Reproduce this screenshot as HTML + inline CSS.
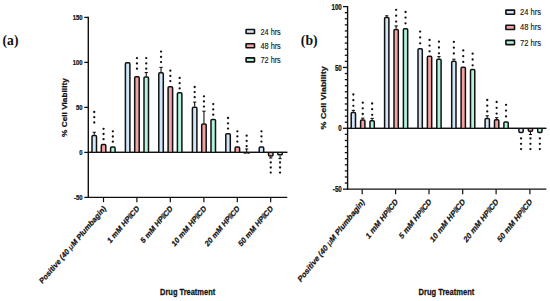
<!DOCTYPE html>
<html><head><meta charset="utf-8"><style>
html,body{margin:0;padding:0;background:#fff;}
body{width:550px;height:301px;overflow:hidden;}
svg{display:block;}
</style></head><body>
<svg width="550" height="301" viewBox="0 0 550 301">
<rect width="550" height="301" fill="#fff"/>
<line x1="88.3" y1="16.80" x2="88.3" y2="198.0" stroke="#111" stroke-width="1.4"/>
<line x1="84.3" y1="17.40" x2="88.3" y2="17.40" stroke="#111" stroke-width="1.3"/>
<text transform="translate(82.6,20.20) scale(0.77,1)" font-family="Liberation Sans" font-size="7.7" font-weight="bold" text-anchor="end" fill="#111" stroke="#111" stroke-width="0.25" >150</text>
<line x1="84.3" y1="62.40" x2="88.3" y2="62.40" stroke="#111" stroke-width="1.3"/>
<text transform="translate(82.6,65.2) scale(0.77,1)" font-family="Liberation Sans" font-size="7.7" font-weight="bold" text-anchor="end" fill="#111" stroke="#111" stroke-width="0.25" >100</text>
<line x1="84.3" y1="107.4" x2="88.3" y2="107.4" stroke="#111" stroke-width="1.3"/>
<text transform="translate(82.6,110.2) scale(0.77,1)" font-family="Liberation Sans" font-size="7.7" font-weight="bold" text-anchor="end" fill="#111" stroke="#111" stroke-width="0.25" >50</text>
<line x1="84.3" y1="152.4" x2="88.3" y2="152.4" stroke="#111" stroke-width="1.3"/>
<text transform="translate(82.6,155.20) scale(0.77,1)" font-family="Liberation Sans" font-size="7.7" font-weight="bold" text-anchor="end" fill="#111" stroke="#111" stroke-width="0.25" >0</text>
<line x1="84.3" y1="197.4" x2="88.3" y2="197.4" stroke="#111" stroke-width="1.3"/>
<text transform="translate(82.6,200.20) scale(0.77,1)" font-family="Liberation Sans" font-size="7.7" font-weight="bold" text-anchor="end" fill="#111" stroke="#111" stroke-width="0.25" >-50</text>
<line x1="88.3" y1="152.4" x2="287.3" y2="152.4" stroke="#111" stroke-width="1.3"/>
<line x1="88.3" y1="197.4" x2="287.3" y2="197.4" stroke="#111" stroke-width="1.4"/>
<line x1="103.5" y1="197.4" x2="103.5" y2="202.2" stroke="#111" stroke-width="1.2"/>
<line x1="136.9" y1="197.4" x2="136.9" y2="202.2" stroke="#111" stroke-width="1.2"/>
<line x1="170.3" y1="197.4" x2="170.3" y2="202.2" stroke="#111" stroke-width="1.2"/>
<line x1="203.9" y1="197.4" x2="203.9" y2="202.2" stroke="#111" stroke-width="1.2"/>
<line x1="237.3" y1="197.4" x2="237.3" y2="202.2" stroke="#111" stroke-width="1.2"/>
<line x1="270.7" y1="197.4" x2="270.7" y2="202.2" stroke="#111" stroke-width="1.2"/>
<line x1="94.25" y1="134.79" x2="94.25" y2="132.3" stroke="#111" stroke-width="1.1"/>
<line x1="92.65" y1="132.3" x2="95.85" y2="132.3" stroke="#111" stroke-width="1.1"/>
<path d="M92.0,152.4 L92.0,136.64 Q92.0,135.54 93.1,135.54 L95.4,135.54 Q96.5,135.54 96.5,136.64 L96.5,152.4" fill="#d2e5f9" stroke="#111" stroke-width="1.5"/>
<circle cx="94.25" cy="112" r="1.15" fill="#111"/>
<circle cx="94.25" cy="117.2" r="1.15" fill="#111"/>
<circle cx="94.25" cy="122.5" r="1.15" fill="#111"/>
<path d="M101.3,152.4 L101.3,145.64 Q101.3,144.54 102.39,144.54 L104.7,144.54 Q105.8,144.54 105.8,145.64 L105.8,152.4" fill="#f4a3a3" stroke="#111" stroke-width="1.5"/>
<circle cx="103.55" cy="128.8" r="1.15" fill="#111"/>
<circle cx="103.55" cy="134" r="1.15" fill="#111"/>
<circle cx="103.55" cy="139.2" r="1.15" fill="#111"/>
<path d="M110.6,152.4 L110.6,148.14 Q110.6,147.04 111.69,147.04 L114.0,147.04 Q115.1,147.04 115.1,148.14 L115.1,152.4" fill="#b0f4da" stroke="#111" stroke-width="1.5"/>
<circle cx="112.85" cy="131.3" r="1.15" fill="#111"/>
<circle cx="112.85" cy="136.5" r="1.15" fill="#111"/>
<circle cx="112.85" cy="141.7" r="1.15" fill="#111"/>
<path d="M125.4,152.4 L125.4,63.95 Q125.4,62.85 126.5,62.85 L128.8,62.85 Q129.9,62.85 129.9,63.95 L129.9,152.4" fill="#d2e5f9" stroke="#111" stroke-width="1.5"/>
<path d="M134.70,152.4 L134.70,77.85 Q134.70,76.75 135.8,76.75 L138.10,76.75 Q139.20,76.75 139.20,77.85 L139.20,152.4" fill="#f4a3a3" stroke="#111" stroke-width="1.5"/>
<circle cx="136.95" cy="58.1" r="1.15" fill="#111"/>
<circle cx="136.95" cy="63.4" r="1.15" fill="#111"/>
<circle cx="136.95" cy="68.7" r="1.15" fill="#111"/>
<line x1="146.25" y1="76.2" x2="146.25" y2="72.5" stroke="#111" stroke-width="1.1"/>
<line x1="144.65" y1="72.5" x2="147.85" y2="72.5" stroke="#111" stroke-width="1.1"/>
<path d="M144.00,152.4 L144.00,78.05 Q144.00,76.95 145.10,76.95 L147.40,76.95 Q148.50,76.95 148.50,78.05 L148.50,152.4" fill="#b0f4da" stroke="#111" stroke-width="1.5"/>
<circle cx="146.25" cy="58.1" r="1.15" fill="#111"/>
<circle cx="146.25" cy="63.4" r="1.15" fill="#111"/>
<circle cx="146.25" cy="68.7" r="1.15" fill="#111"/>
<line x1="161.05" y1="72.10" x2="161.05" y2="67.4" stroke="#111" stroke-width="1.1"/>
<line x1="159.45" y1="67.4" x2="162.65" y2="67.4" stroke="#111" stroke-width="1.1"/>
<path d="M158.8,152.4 L158.8,73.95 Q158.8,72.85 159.9,72.85 L162.20,72.85 Q163.3,72.85 163.3,73.95 L163.3,152.4" fill="#d2e5f9" stroke="#111" stroke-width="1.5"/>
<circle cx="161.05" cy="51.6" r="1.15" fill="#111"/>
<circle cx="161.05" cy="56.9" r="1.15" fill="#111"/>
<circle cx="161.05" cy="62.1" r="1.15" fill="#111"/>
<path d="M168.10,152.4 L168.10,87.75 Q168.10,86.65 169.20,86.65 L171.50,86.65 Q172.60,86.65 172.60,87.75 L172.60,152.4" fill="#f4a3a3" stroke="#111" stroke-width="1.5"/>
<circle cx="170.35" cy="70.7" r="1.15" fill="#111"/>
<circle cx="170.35" cy="75.9" r="1.15" fill="#111"/>
<circle cx="170.35" cy="81.1" r="1.15" fill="#111"/>
<path d="M177.40,152.4 L177.40,93.95 Q177.40,92.85 178.50,92.85 L180.80,92.85 Q181.90,92.85 181.90,93.95 L181.90,152.4" fill="#b0f4da" stroke="#111" stroke-width="1.5"/>
<circle cx="179.65" cy="77.9" r="1.15" fill="#111"/>
<circle cx="179.65" cy="83.2" r="1.15" fill="#111"/>
<circle cx="179.65" cy="88.4" r="1.15" fill="#111"/>
<line x1="194.65" y1="106.60" x2="194.65" y2="102.1" stroke="#111" stroke-width="1.1"/>
<line x1="193.05" y1="102.1" x2="196.25" y2="102.1" stroke="#111" stroke-width="1.1"/>
<path d="M192.4,152.4 L192.4,108.45 Q192.4,107.35 193.5,107.35 L195.8,107.35 Q196.9,107.35 196.9,108.45 L196.9,152.4" fill="#d2e5f9" stroke="#111" stroke-width="1.5"/>
<circle cx="194.65" cy="87" r="1.15" fill="#111"/>
<circle cx="194.65" cy="92.1" r="1.15" fill="#111"/>
<circle cx="194.65" cy="97.2" r="1.15" fill="#111"/>
<line x1="203.95" y1="123.2" x2="203.95" y2="111.2" stroke="#111" stroke-width="1.1"/>
<line x1="202.35" y1="111.2" x2="205.55" y2="111.2" stroke="#111" stroke-width="1.1"/>
<path d="M201.70,152.4 L201.70,125.05 Q201.70,123.95 202.8,123.95 L205.10,123.95 Q206.20,123.95 206.20,125.05 L206.20,152.4" fill="#f4a3a3" stroke="#111" stroke-width="1.5"/>
<circle cx="203.95" cy="96.3" r="1.15" fill="#111"/>
<circle cx="203.95" cy="101.4" r="1.15" fill="#111"/>
<circle cx="203.95" cy="106.6" r="1.15" fill="#111"/>
<path d="M211.00,152.4 L211.00,120.55 Q211.00,119.45 212.10,119.45 L214.40,119.45 Q215.50,119.45 215.50,120.55 L215.50,152.4" fill="#b0f4da" stroke="#111" stroke-width="1.5"/>
<circle cx="213.25" cy="104.1" r="1.15" fill="#111"/>
<circle cx="213.25" cy="109.4" r="1.15" fill="#111"/>
<circle cx="213.25" cy="114.7" r="1.15" fill="#111"/>
<path d="M225.8,152.4 L225.8,134.85 Q225.8,133.75 226.9,133.75 L229.20,133.75 Q230.3,133.75 230.3,134.85 L230.3,152.4" fill="#d2e5f9" stroke="#111" stroke-width="1.5"/>
<circle cx="228.05" cy="118" r="1.15" fill="#111"/>
<circle cx="228.05" cy="123.3" r="1.15" fill="#111"/>
<circle cx="228.05" cy="128.6" r="1.15" fill="#111"/>
<path d="M235.10,152.4 L235.10,148.14 Q235.10,147.04 236.20,147.04 L238.50,147.04 Q239.60,147.04 239.60,148.14 L239.60,152.4" fill="#f4a3a3" stroke="#111" stroke-width="1.5"/>
<circle cx="237.35" cy="131.3" r="1.15" fill="#111"/>
<circle cx="237.35" cy="136.4" r="1.15" fill="#111"/>
<circle cx="237.35" cy="141.6" r="1.15" fill="#111"/>
<line x1="246.65" y1="151.89" x2="246.65" y2="149.0" stroke="#111" stroke-width="1.1"/>
<line x1="245.05" y1="149.0" x2="248.25" y2="149.0" stroke="#111" stroke-width="1.1"/>
<path d="M244.40,152.4 L244.40,153.74 Q244.40,152.64 245.50,152.64 L247.80,152.64 Q248.90,152.64 248.90,153.74 L248.90,152.4" fill="#b0f4da" stroke="#111" stroke-width="1.5"/>
<circle cx="246.65" cy="135.7" r="1.15" fill="#111"/>
<circle cx="246.65" cy="140.9" r="1.15" fill="#111"/>
<circle cx="246.65" cy="146.1" r="1.15" fill="#111"/>
<path d="M259.2,152.4 L259.2,148.14 Q259.2,147.04 260.3,147.04 L262.59,147.04 Q263.7,147.04 263.7,148.14 L263.7,152.4" fill="#d2e5f9" stroke="#111" stroke-width="1.5"/>
<circle cx="261.45" cy="131.3" r="1.15" fill="#111"/>
<circle cx="261.45" cy="136.4" r="1.15" fill="#111"/>
<circle cx="261.45" cy="141.6" r="1.15" fill="#111"/>
<line x1="270.75" y1="156.7" x2="270.75" y2="158.0" stroke="#111" stroke-width="1.1"/>
<line x1="269.15" y1="158.0" x2="272.35" y2="158.0" stroke="#111" stroke-width="1.1"/>
<path d="M268.5,152.4 L268.5,154.85 Q268.5,155.95 269.6,155.95 L271.9,155.95 Q273.0,155.95 273.0,154.85 L273.0,152.4" fill="#f4a3a3" stroke="#111" stroke-width="1.5"/>
<circle cx="270.75" cy="162.4" r="1.15" fill="#111"/>
<circle cx="270.75" cy="167.5" r="1.15" fill="#111"/>
<circle cx="270.75" cy="172.6" r="1.15" fill="#111"/>
<line x1="280.05" y1="155.5" x2="280.05" y2="158.6" stroke="#111" stroke-width="1.1"/>
<line x1="278.45" y1="158.6" x2="281.65" y2="158.6" stroke="#111" stroke-width="1.1"/>
<path d="M277.8,152.4 L277.8,153.65 Q277.8,154.75 278.90,154.75 L281.2,154.75 Q282.3,154.75 282.3,153.65 L282.3,152.4" fill="#b0f4da" stroke="#111" stroke-width="1.5"/>
<circle cx="280.05" cy="162.4" r="1.15" fill="#111"/>
<circle cx="280.05" cy="167.5" r="1.15" fill="#111"/>
<circle cx="280.05" cy="172.6" r="1.15" fill="#111"/>
<line x1="88.3" y1="152.4" x2="287.3" y2="152.4" stroke="#111" stroke-width="1.3"/>
<rect x="246.1" y="29.5" width="8.4" height="4.0" rx="0.3" fill="#d2e5f9" stroke="#111" stroke-width="1.6"/>
<text transform="translate(260.5,34.5) scale(0.84,1)" font-family="Liberation Sans" font-size="8.7" font-weight="normal" text-anchor="start" fill="#111" stroke="#111" stroke-width="0.12">24 hrs</text>
<rect x="246.1" y="43.7" width="8.4" height="4.0" rx="0.3" fill="#f4a3a3" stroke="#111" stroke-width="1.6"/>
<text transform="translate(260.5,48.7) scale(0.84,1)" font-family="Liberation Sans" font-size="8.7" font-weight="normal" text-anchor="start" fill="#111" stroke="#111" stroke-width="0.12">48 hrs</text>
<rect x="246.1" y="57.9" width="8.4" height="4.0" rx="0.3" fill="#b0f4da" stroke="#111" stroke-width="1.6"/>
<text transform="translate(260.5,62.9) scale(0.84,1)" font-family="Liberation Sans" font-size="8.7" font-weight="normal" text-anchor="start" fill="#111" stroke="#111" stroke-width="0.12">72 hrs</text>
<text transform="translate(66.9,107.6) scale(0.84,1) rotate(-90)" font-family="Liberation Sans" font-size="8.3" font-weight="bold" text-anchor="middle" fill="#111" stroke="#111" stroke-width="0.25" >% Cell Viability</text>
<text transform="translate(187.6,294.8) scale(0.84,1)" font-family="Liberation Sans" font-size="8.9" font-weight="bold" text-anchor="middle" fill="#111" stroke="#111" stroke-width="0.25" >Drug Treatment</text>
<text transform="translate(106.3,209.0) scale(0.85,1) rotate(-45)" font-family="Liberation Sans" font-size="8.23" font-weight="bold" text-anchor="end" fill="#111" stroke="#111" stroke-width="0.25" >Positive (40 <tspan font-weight="normal">&#956;</tspan>M Plumbagin)</text>
<text transform="translate(139.70,209.0) scale(0.85,1) rotate(-45)" font-family="Liberation Sans" font-size="8.23" font-weight="bold" text-anchor="end" fill="#111" stroke="#111" stroke-width="0.25" >1 mM HP<tspan font-weight="bold" fill="#666" dx="-0.6">&#8214;</tspan><tspan dx="-0.9">CD</tspan></text>
<text transform="translate(173.10,209.0) scale(0.85,1) rotate(-45)" font-family="Liberation Sans" font-size="8.23" font-weight="bold" text-anchor="end" fill="#111" stroke="#111" stroke-width="0.25" >5 mM HP<tspan font-weight="bold" fill="#666" dx="-0.6">&#8214;</tspan><tspan dx="-0.9">CD</tspan></text>
<text transform="translate(206.70,209.0) scale(0.85,1) rotate(-45)" font-family="Liberation Sans" font-size="8.23" font-weight="bold" text-anchor="end" fill="#111" stroke="#111" stroke-width="0.25" >10 mM HP<tspan font-weight="bold" fill="#666" dx="-0.6">&#8214;</tspan><tspan dx="-0.9">CD</tspan></text>
<text transform="translate(240.10,209.0) scale(0.85,1) rotate(-45)" font-family="Liberation Sans" font-size="8.23" font-weight="bold" text-anchor="end" fill="#111" stroke="#111" stroke-width="0.25" >20 mM HP<tspan font-weight="bold" fill="#666" dx="-0.6">&#8214;</tspan><tspan dx="-0.9">CD</tspan></text>
<text transform="translate(273.5,209.0) scale(0.85,1) rotate(-45)" font-family="Liberation Sans" font-size="8.23" font-weight="bold" text-anchor="end" fill="#111" stroke="#111" stroke-width="0.25" >50 mM HP<tspan font-weight="bold" fill="#666" dx="-0.6">&#8214;</tspan><tspan dx="-0.9">CD</tspan></text>
<text transform="translate(2.6,44.6) scale(0.97,1)" font-family="Liberation Serif" font-size="14" font-weight="bold" text-anchor="start" fill="#111" >(a)</text>
<line x1="347.6" y1="6.00" x2="347.6" y2="189.75" stroke="#111" stroke-width="1.4"/>
<line x1="343.0" y1="189.15" x2="347.6" y2="189.15" stroke="#111" stroke-width="1.3"/>
<text transform="translate(341.8,192.25) scale(0.72,1)" font-family="Liberation Sans" font-size="8.6" font-weight="bold" text-anchor="end" fill="#111" stroke="#111" stroke-width="0.25" >-50</text>
<line x1="344.8" y1="183.06" x2="347.6" y2="183.06" stroke="#111" stroke-width="1.3"/>
<line x1="344.8" y1="176.98" x2="347.6" y2="176.98" stroke="#111" stroke-width="1.3"/>
<line x1="344.8" y1="170.89" x2="347.6" y2="170.89" stroke="#111" stroke-width="1.3"/>
<line x1="344.8" y1="164.81" x2="347.6" y2="164.81" stroke="#111" stroke-width="1.3"/>
<line x1="344.8" y1="158.72" x2="347.6" y2="158.72" stroke="#111" stroke-width="1.3"/>
<line x1="344.8" y1="152.64" x2="347.6" y2="152.64" stroke="#111" stroke-width="1.3"/>
<line x1="344.8" y1="146.55" x2="347.6" y2="146.55" stroke="#111" stroke-width="1.3"/>
<line x1="344.8" y1="140.47" x2="347.6" y2="140.47" stroke="#111" stroke-width="1.3"/>
<line x1="344.8" y1="134.38" x2="347.6" y2="134.38" stroke="#111" stroke-width="1.3"/>
<line x1="343.0" y1="128.3" x2="347.6" y2="128.3" stroke="#111" stroke-width="1.3"/>
<text transform="translate(341.8,131.4) scale(0.72,1)" font-family="Liberation Sans" font-size="8.6" font-weight="bold" text-anchor="end" fill="#111" stroke="#111" stroke-width="0.25" >0</text>
<line x1="344.8" y1="122.21" x2="347.6" y2="122.21" stroke="#111" stroke-width="1.3"/>
<line x1="344.8" y1="116.13" x2="347.6" y2="116.13" stroke="#111" stroke-width="1.3"/>
<line x1="344.8" y1="110.04" x2="347.6" y2="110.04" stroke="#111" stroke-width="1.3"/>
<line x1="344.8" y1="103.96" x2="347.6" y2="103.96" stroke="#111" stroke-width="1.3"/>
<line x1="344.8" y1="97.87" x2="347.6" y2="97.87" stroke="#111" stroke-width="1.3"/>
<line x1="344.8" y1="91.79" x2="347.6" y2="91.79" stroke="#111" stroke-width="1.3"/>
<line x1="344.8" y1="85.70" x2="347.6" y2="85.70" stroke="#111" stroke-width="1.3"/>
<line x1="344.8" y1="79.62" x2="347.6" y2="79.62" stroke="#111" stroke-width="1.3"/>
<line x1="344.8" y1="73.53" x2="347.6" y2="73.53" stroke="#111" stroke-width="1.3"/>
<line x1="343.0" y1="67.45" x2="347.6" y2="67.45" stroke="#111" stroke-width="1.3"/>
<text transform="translate(341.8,70.55) scale(0.72,1)" font-family="Liberation Sans" font-size="8.6" font-weight="bold" text-anchor="end" fill="#111" stroke="#111" stroke-width="0.25" >50</text>
<line x1="344.8" y1="61.36" x2="347.6" y2="61.36" stroke="#111" stroke-width="1.3"/>
<line x1="344.8" y1="55.28" x2="347.6" y2="55.28" stroke="#111" stroke-width="1.3"/>
<line x1="344.8" y1="49.19" x2="347.6" y2="49.19" stroke="#111" stroke-width="1.3"/>
<line x1="344.8" y1="43.11" x2="347.6" y2="43.11" stroke="#111" stroke-width="1.3"/>
<line x1="344.8" y1="37.02" x2="347.6" y2="37.02" stroke="#111" stroke-width="1.3"/>
<line x1="344.8" y1="30.93" x2="347.6" y2="30.93" stroke="#111" stroke-width="1.3"/>
<line x1="344.8" y1="24.85" x2="347.6" y2="24.85" stroke="#111" stroke-width="1.3"/>
<line x1="344.8" y1="18.77" x2="347.6" y2="18.77" stroke="#111" stroke-width="1.3"/>
<line x1="344.8" y1="12.68" x2="347.6" y2="12.68" stroke="#111" stroke-width="1.3"/>
<line x1="343.0" y1="6.60" x2="347.6" y2="6.60" stroke="#111" stroke-width="1.3"/>
<text transform="translate(341.8,9.70) scale(0.72,1)" font-family="Liberation Sans" font-size="8.6" font-weight="bold" text-anchor="end" fill="#111" stroke="#111" stroke-width="0.25" >100</text>
<line x1="347.6" y1="128.3" x2="546.3" y2="128.3" stroke="#111" stroke-width="1.3"/>
<line x1="347.6" y1="189.15" x2="546.3" y2="189.15" stroke="#111" stroke-width="1.4"/>
<line x1="362.2" y1="189.15" x2="362.2" y2="194.3" stroke="#111" stroke-width="1.2"/>
<line x1="395.6" y1="189.15" x2="395.6" y2="194.3" stroke="#111" stroke-width="1.2"/>
<line x1="429.0" y1="189.15" x2="429.0" y2="194.3" stroke="#111" stroke-width="1.2"/>
<line x1="462.7" y1="189.15" x2="462.7" y2="194.3" stroke="#111" stroke-width="1.2"/>
<line x1="496.1" y1="189.15" x2="496.1" y2="194.3" stroke="#111" stroke-width="1.2"/>
<line x1="529.9" y1="189.15" x2="529.9" y2="194.3" stroke="#111" stroke-width="1.2"/>
<line x1="353.35" y1="111.7" x2="353.35" y2="110.4" stroke="#111" stroke-width="1.1"/>
<line x1="351.75" y1="110.4" x2="354.95" y2="110.4" stroke="#111" stroke-width="1.1"/>
<path d="M351.20,128.3 L351.20,113.55 Q351.20,112.45 352.30,112.45 L354.4,112.45 Q355.5,112.45 355.5,113.55 L355.5,128.3" fill="#d2e5f9" stroke="#111" stroke-width="1.5"/>
<circle cx="353.35" cy="94.5" r="1.15" fill="#111"/>
<circle cx="353.35" cy="100.2" r="1.15" fill="#111"/>
<circle cx="353.35" cy="105.8" r="1.15" fill="#111"/>
<line x1="362.75" y1="119.3" x2="362.75" y2="118.2" stroke="#111" stroke-width="1.1"/>
<line x1="361.15" y1="118.2" x2="364.35" y2="118.2" stroke="#111" stroke-width="1.1"/>
<path d="M360.6,128.3 L360.6,121.14 Q360.6,120.05 361.70,120.05 L363.79,120.05 Q364.9,120.05 364.9,121.14 L364.9,128.3" fill="#f4a3a3" stroke="#111" stroke-width="1.5"/>
<circle cx="362.75" cy="102.7" r="1.15" fill="#111"/>
<circle cx="362.75" cy="108.3" r="1.15" fill="#111"/>
<circle cx="362.75" cy="114" r="1.15" fill="#111"/>
<line x1="372.15" y1="120.0" x2="372.15" y2="118.4" stroke="#111" stroke-width="1.1"/>
<line x1="370.54" y1="118.4" x2="373.75" y2="118.4" stroke="#111" stroke-width="1.1"/>
<path d="M370.0,128.3 L370.0,121.85 Q370.0,120.75 371.1,120.75 L373.19,120.75 Q374.29,120.75 374.29,121.85 L374.29,128.3" fill="#b0f4da" stroke="#111" stroke-width="1.5"/>
<circle cx="372.15" cy="103.5" r="1.15" fill="#111"/>
<circle cx="372.15" cy="109.2" r="1.15" fill="#111"/>
<circle cx="372.15" cy="114.8" r="1.15" fill="#111"/>
<line x1="386.75" y1="16.7" x2="386.75" y2="15.8" stroke="#111" stroke-width="1.1"/>
<line x1="385.15" y1="15.8" x2="388.35" y2="15.8" stroke="#111" stroke-width="1.1"/>
<path d="M384.60,128.3 L384.60,18.55 Q384.60,17.45 385.70,17.45 L387.8,17.45 Q388.90,17.45 388.90,18.55 L388.90,128.3" fill="#d2e5f9" stroke="#111" stroke-width="1.5"/>
<line x1="396.15" y1="28.7" x2="396.15" y2="25.9" stroke="#111" stroke-width="1.1"/>
<line x1="394.55" y1="25.9" x2="397.75" y2="25.9" stroke="#111" stroke-width="1.1"/>
<path d="M394.00,128.3 L394.00,30.55 Q394.00,29.45 395.10,29.45 L397.2,29.45 Q398.3,29.45 398.3,30.55 L398.3,128.3" fill="#f4a3a3" stroke="#111" stroke-width="1.5"/>
<circle cx="396.15" cy="9.8" r="1.15" fill="#111"/>
<circle cx="396.15" cy="15.7" r="1.15" fill="#111"/>
<circle cx="396.15" cy="21.6" r="1.15" fill="#111"/>
<path d="M403.40,128.3 L403.40,29.95 Q403.40,28.84 404.50,28.84 L406.59,28.84 Q407.7,28.84 407.7,29.95 L407.7,128.3" fill="#b0f4da" stroke="#111" stroke-width="1.5"/>
<circle cx="405.55" cy="12" r="1.15" fill="#111"/>
<circle cx="405.55" cy="17.6" r="1.15" fill="#111"/>
<circle cx="405.55" cy="23.3" r="1.15" fill="#111"/>
<path d="M418.00,128.3 L418.00,49.95 Q418.00,48.85 419.10,48.85 L421.2,48.85 Q422.3,48.85 422.3,49.95 L422.3,128.3" fill="#d2e5f9" stroke="#111" stroke-width="1.5"/>
<circle cx="420.15" cy="31.6" r="1.15" fill="#111"/>
<circle cx="420.15" cy="37.4" r="1.15" fill="#111"/>
<circle cx="420.15" cy="43.3" r="1.15" fill="#111"/>
<path d="M427.40,128.3 L427.40,57.25 Q427.40,56.15 428.50,56.15 L430.59,56.15 Q431.7,56.15 431.7,57.25 L431.7,128.3" fill="#f4a3a3" stroke="#111" stroke-width="1.5"/>
<circle cx="429.55" cy="39.9" r="1.15" fill="#111"/>
<circle cx="429.55" cy="45.6" r="1.15" fill="#111"/>
<circle cx="429.55" cy="51.3" r="1.15" fill="#111"/>
<line x1="438.95" y1="58.5" x2="438.95" y2="56.6" stroke="#111" stroke-width="1.1"/>
<line x1="437.34" y1="56.6" x2="440.55" y2="56.6" stroke="#111" stroke-width="1.1"/>
<path d="M436.8,128.3 L436.8,60.35 Q436.8,59.25 437.90,59.25 L439.99,59.25 Q441.09,59.25 441.09,60.35 L441.09,128.3" fill="#b0f4da" stroke="#111" stroke-width="1.5"/>
<circle cx="438.95" cy="41.7" r="1.15" fill="#111"/>
<circle cx="438.95" cy="47.5" r="1.15" fill="#111"/>
<circle cx="438.95" cy="53.3" r="1.15" fill="#111"/>
<line x1="453.85" y1="60.6" x2="453.85" y2="59.2" stroke="#111" stroke-width="1.1"/>
<line x1="452.25" y1="59.2" x2="455.45" y2="59.2" stroke="#111" stroke-width="1.1"/>
<path d="M451.70,128.3 L451.70,62.45 Q451.70,61.35 452.80,61.35 L454.9,61.35 Q456.0,61.35 456.0,62.45 L456.0,128.3" fill="#d2e5f9" stroke="#111" stroke-width="1.5"/>
<circle cx="453.85" cy="41.9" r="1.15" fill="#111"/>
<circle cx="453.85" cy="47.7" r="1.15" fill="#111"/>
<circle cx="453.85" cy="53.5" r="1.15" fill="#111"/>
<path d="M461.1,128.3 L461.1,68.35 Q461.1,67.25 462.20,67.25 L464.29,67.25 Q465.4,67.25 465.4,68.35 L465.4,128.3" fill="#f4a3a3" stroke="#111" stroke-width="1.5"/>
<circle cx="463.25" cy="50.4" r="1.15" fill="#111"/>
<circle cx="463.25" cy="56.2" r="1.15" fill="#111"/>
<circle cx="463.25" cy="61.9" r="1.15" fill="#111"/>
<path d="M470.5,128.3 L470.5,70.64 Q470.5,69.55 471.6,69.55 L473.69,69.55 Q474.79,69.55 474.79,70.64 L474.79,128.3" fill="#b0f4da" stroke="#111" stroke-width="1.5"/>
<circle cx="472.65" cy="53.7" r="1.15" fill="#111"/>
<circle cx="472.65" cy="59.5" r="1.15" fill="#111"/>
<circle cx="472.65" cy="65.3" r="1.15" fill="#111"/>
<line x1="487.25" y1="117.7" x2="487.25" y2="115.8" stroke="#111" stroke-width="1.1"/>
<line x1="485.65" y1="115.8" x2="488.85" y2="115.8" stroke="#111" stroke-width="1.1"/>
<path d="M485.10,128.3 L485.10,119.55 Q485.10,118.45 486.20,118.45 L488.3,118.45 Q489.40,118.45 489.40,119.55 L489.40,128.3" fill="#d2e5f9" stroke="#111" stroke-width="1.5"/>
<circle cx="487.25" cy="100" r="1.15" fill="#111"/>
<circle cx="487.25" cy="105.7" r="1.15" fill="#111"/>
<circle cx="487.25" cy="111.4" r="1.15" fill="#111"/>
<line x1="496.65" y1="118.9" x2="496.65" y2="117.7" stroke="#111" stroke-width="1.1"/>
<line x1="495.05" y1="117.7" x2="498.25" y2="117.7" stroke="#111" stroke-width="1.1"/>
<path d="M494.50,128.3 L494.50,120.75 Q494.50,119.65 495.60,119.65 L497.7,119.65 Q498.8,119.65 498.8,120.75 L498.8,128.3" fill="#f4a3a3" stroke="#111" stroke-width="1.5"/>
<circle cx="496.65" cy="102" r="1.15" fill="#111"/>
<circle cx="496.65" cy="107.8" r="1.15" fill="#111"/>
<circle cx="496.65" cy="113.6" r="1.15" fill="#111"/>
<path d="M503.90,128.3 L503.90,123.05 Q503.90,121.95 505.00,121.95 L507.09,121.95 Q508.2,121.95 508.2,123.05 L508.2,128.3" fill="#b0f4da" stroke="#111" stroke-width="1.5"/>
<circle cx="506.05" cy="104.8" r="1.15" fill="#111"/>
<circle cx="506.05" cy="110.6" r="1.15" fill="#111"/>
<circle cx="506.05" cy="116.4" r="1.15" fill="#111"/>
<path d="M518.9,128.3 L518.9,131.35 Q518.9,132.45 520.0,132.45 L522.09,132.45 Q523.19,132.45 523.19,131.35 L523.19,128.3" fill="#d2e5f9" stroke="#111" stroke-width="1.5"/>
<circle cx="521.05" cy="138.4" r="1.15" fill="#111"/>
<circle cx="521.05" cy="143.8" r="1.15" fill="#111"/>
<circle cx="521.05" cy="149.1" r="1.15" fill="#111"/>
<line x1="530.44" y1="131.9" x2="530.44" y2="134.5" stroke="#111" stroke-width="1.1"/>
<line x1="528.84" y1="134.5" x2="532.05" y2="134.5" stroke="#111" stroke-width="1.1"/>
<path d="M528.3,128.3 L528.3,130.05 Q528.3,131.15 529.4,131.15 L531.49,131.15 Q532.59,131.15 532.59,130.05 L532.59,128.3" fill="#f4a3a3" stroke="#111" stroke-width="1.5"/>
<circle cx="530.44" cy="138.4" r="1.15" fill="#111"/>
<circle cx="530.44" cy="143.8" r="1.15" fill="#111"/>
<circle cx="530.44" cy="149.1" r="1.15" fill="#111"/>
<path d="M537.69,128.3 L537.69,131.35 Q537.69,132.45 538.8,132.45 L540.89,132.45 Q541.99,132.45 541.99,131.35 L541.99,128.3" fill="#b0f4da" stroke="#111" stroke-width="1.5"/>
<circle cx="539.84" cy="138.4" r="1.15" fill="#111"/>
<circle cx="539.84" cy="143.8" r="1.15" fill="#111"/>
<circle cx="539.84" cy="149.1" r="1.15" fill="#111"/>
<line x1="347.6" y1="128.3" x2="546.3" y2="128.3" stroke="#111" stroke-width="1.3"/>
<rect x="505.9" y="10.1" width="8.6" height="4.2" rx="0.3" fill="#d2e5f9" stroke="#111" stroke-width="1.6"/>
<text transform="translate(520.0,15.2) scale(0.8,1)" font-family="Liberation Sans" font-size="9.45" font-weight="normal" text-anchor="start" fill="#111" stroke="#111" stroke-width="0.12">24 hrs</text>
<rect x="505.9" y="25.25" width="8.6" height="4.2" rx="0.3" fill="#f4a3a3" stroke="#111" stroke-width="1.6"/>
<text transform="translate(520.0,30.35) scale(0.8,1)" font-family="Liberation Sans" font-size="9.45" font-weight="normal" text-anchor="start" fill="#111" stroke="#111" stroke-width="0.12">48 hrs</text>
<rect x="505.9" y="40.4" width="8.6" height="4.2" rx="0.3" fill="#b0f4da" stroke="#111" stroke-width="1.6"/>
<text transform="translate(520.0,45.5) scale(0.8,1)" font-family="Liberation Sans" font-size="9.45" font-weight="normal" text-anchor="start" fill="#111" stroke="#111" stroke-width="0.12">72 hrs</text>
<text transform="translate(326.0,97.9) scale(0.8,1) rotate(-90)" font-family="Liberation Sans" font-size="8.9" font-weight="bold" text-anchor="middle" fill="#111" stroke="#111" stroke-width="0.25" >% Cell Viability</text>
<text transform="translate(446.4,294.6) scale(0.8,1)" font-family="Liberation Sans" font-size="9.45" font-weight="bold" text-anchor="middle" fill="#111" stroke="#111" stroke-width="0.25" >Drug Treatment</text>
<text transform="translate(365.0,202.3) scale(0.80,1) rotate(-45)" font-family="Liberation Sans" font-size="8.77" font-weight="bold" text-anchor="end" fill="#111" stroke="#111" stroke-width="0.25" >Positive (40 <tspan font-weight="normal">&#956;</tspan>M Plumbagin)</text>
<text transform="translate(398.40,202.3) scale(0.80,1) rotate(-45)" font-family="Liberation Sans" font-size="8.77" font-weight="bold" text-anchor="end" fill="#111" stroke="#111" stroke-width="0.25" >1 mM HP<tspan font-weight="bold" fill="#666" dx="-0.6">&#8214;</tspan><tspan dx="-0.9">CD</tspan></text>
<text transform="translate(431.8,202.3) scale(0.80,1) rotate(-45)" font-family="Liberation Sans" font-size="8.77" font-weight="bold" text-anchor="end" fill="#111" stroke="#111" stroke-width="0.25" >5 mM HP<tspan font-weight="bold" fill="#666" dx="-0.6">&#8214;</tspan><tspan dx="-0.9">CD</tspan></text>
<text transform="translate(465.5,202.3) scale(0.80,1) rotate(-45)" font-family="Liberation Sans" font-size="8.77" font-weight="bold" text-anchor="end" fill="#111" stroke="#111" stroke-width="0.25" >10 mM HP<tspan font-weight="bold" fill="#666" dx="-0.6">&#8214;</tspan><tspan dx="-0.9">CD</tspan></text>
<text transform="translate(498.90,202.3) scale(0.80,1) rotate(-45)" font-family="Liberation Sans" font-size="8.77" font-weight="bold" text-anchor="end" fill="#111" stroke="#111" stroke-width="0.25" >20 mM HP<tspan font-weight="bold" fill="#666" dx="-0.6">&#8214;</tspan><tspan dx="-0.9">CD</tspan></text>
<text transform="translate(532.69,202.3) scale(0.80,1) rotate(-45)" font-family="Liberation Sans" font-size="8.77" font-weight="bold" text-anchor="end" fill="#111" stroke="#111" stroke-width="0.25" >50 mM HP<tspan font-weight="bold" fill="#666" dx="-0.6">&#8214;</tspan><tspan dx="-0.9">CD</tspan></text>
<text transform="translate(300.8,45.3) scale(0.97,1)" font-family="Liberation Serif" font-size="14.2" font-weight="bold" text-anchor="start" fill="#111" >(b)</text>
</svg>
</body></html>
